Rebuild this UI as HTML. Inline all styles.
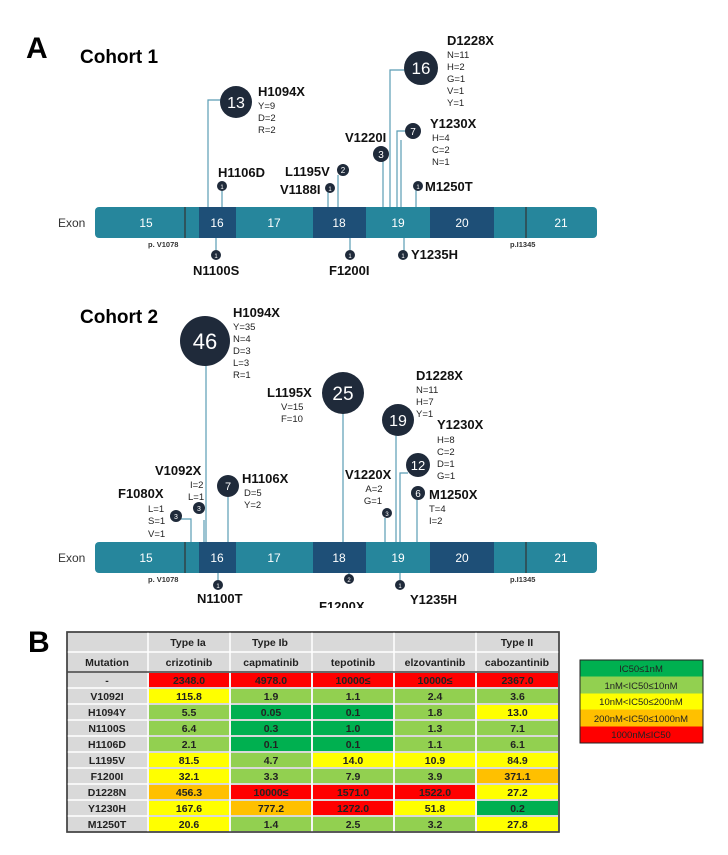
<!DOCTYPE html>
<html><head><meta charset="utf-8"><style>
body{margin:0;background:#fff;width:728px;height:855px;overflow:hidden}
svg{display:block;font-family:"Liberation Sans",sans-serif}
.b{font-weight:bold;font-size:13px;fill:#111}
.s{font-size:9.5px;fill:#222}
.c{fill:#1f2a3a}
.ct{fill:#fff;text-anchor:middle}
.ln{stroke:#5a9cb5;stroke-width:1.2;fill:none}
.ex{fill:#fff;font-size:12px;text-anchor:middle}
.tb{font-size:10.5px;font-weight:bold;text-anchor:middle;fill:#222}
</style></head><body>
<svg width="728" height="855" viewBox="0 0 728 855">
<text x="26" y="58" font-size="30" font-weight="bold">A</text>
<text x="80" y="63" font-size="19" font-weight="bold">Cohort 1</text>
<g>
<rect x="95" y="207" width="502" height="31" rx="4" fill="#26869c"/>
<rect x="199" y="207" width="37" height="31" fill="#1e4f77"/>
<rect x="313" y="207" width="53" height="31" fill="#1e4f77"/>
<rect x="430" y="207" width="64" height="31" fill="#1e4f77"/>
<line x1="185" y1="207" x2="185" y2="238" stroke="#333" stroke-width="1.2"/>
<line x1="526" y1="207" x2="526" y2="238" stroke="#333" stroke-width="1.2"/>
<text class="ex" x="146" y="227">15</text><text class="ex" x="217" y="227">16</text><text class="ex" x="274" y="227">17</text><text class="ex" x="339" y="227">18</text><text class="ex" x="398" y="227">19</text><text class="ex" x="462" y="227">20</text><text class="ex" x="561" y="227">21</text>
<text x="58" y="227" font-size="12" fill="#333">Exon</text>
<text x="148" y="247" font-size="7.5" font-weight="bold" fill="#333">p. V1078</text>
<text x="510" y="247" font-size="7.5" font-weight="bold" fill="#333">p.I1345</text>
</g>
<polyline class="ln" points="222,100 208,100 208,207"/>
<circle class="c" cx="236" cy="102" r="16"/><text class="ct" x="236" y="108" font-size="16">13</text>
<text class="b" x="258" y="96">H1094X</text><text class="s" x="258" y="109">Y=9</text><text class="s" x="258" y="121">D=2</text><text class="s" x="258" y="133">R=2</text>
<line class="ln" x1="222" y1="190" x2="222" y2="207"/><circle class="c" cx="222" cy="186" r="5"/><text class="ct" x="222" y="189" font-size="6">1</text>
<text class="b" x="218" y="177">H1106D</text>
<line class="ln" x1="328" y1="192" x2="328" y2="207"/><line class="ln" x1="338" y1="175" x2="338" y2="207"/>
<text class="b" x="285" y="176">L1195V</text><circle class="c" cx="343" cy="170" r="6"/><text class="ct" x="343" y="173" font-size="8">2</text>
<text class="b" x="280" y="194">V1188I</text><circle class="c" cx="330" cy="188" r="5"/><text class="ct" x="330" y="191" font-size="6">1</text>
<polyline class="ln" points="405,70 390,70 390,207"/>
<circle class="c" cx="421" cy="68" r="17"/><text class="ct" x="421" y="74" font-size="17">16</text>
<text class="b" x="447" y="45">D1228X</text><text class="s" x="447" y="58">N=11</text><text class="s" x="447" y="70">H=2</text><text class="s" x="447" y="82">G=1</text><text class="s" x="447" y="94">V=1</text><text class="s" x="447" y="106">Y=1</text>
<line class="ln" x1="383" y1="160" x2="383" y2="207"/><circle class="c" cx="381" cy="154" r="8"/><text class="ct" x="381" y="158" font-size="10">3</text>
<text class="b" x="345" y="142">V1220I</text>
<polyline class="ln" points="406,131 397,131 397,207"/><line class="ln" x1="401" y1="140" x2="401" y2="207"/>
<circle class="c" cx="413" cy="131" r="8"/><text class="ct" x="413" y="135" font-size="10">7</text>
<text class="b" x="430" y="128">Y1230X</text><text class="s" x="432" y="141">H=4</text><text class="s" x="432" y="153">C=2</text><text class="s" x="432" y="165">N=1</text>
<line class="ln" x1="416" y1="190" x2="416" y2="207"/><circle class="c" cx="418" cy="186" r="5"/><text class="ct" x="418" y="189" font-size="6">1</text>
<text class="b" x="425" y="191">M1250T</text>
<line class="ln" x1="216" y1="238" x2="216" y2="252"/><circle class="c" cx="216" cy="255" r="5"/><text class="ct" x="216" y="258" font-size="6">1</text>
<text class="b" x="193" y="275">N1100S</text>
<line class="ln" x1="350" y1="238" x2="350" y2="252"/><circle class="c" cx="350" cy="255" r="5"/><text class="ct" x="350" y="258" font-size="6">1</text>
<text class="b" x="329" y="275">F1200I</text>
<line class="ln" x1="404" y1="238" x2="404" y2="252"/><circle class="c" cx="403" cy="255" r="5"/><text class="ct" x="403" y="258" font-size="6">1</text>
<text class="b" x="411" y="259">Y1235H</text>

<text x="80" y="323" font-size="19" font-weight="bold">Cohort 2</text>
<g transform="translate(0,335)">
<rect x="95" y="207" width="502" height="31" rx="4" fill="#26869c"/>
<rect x="199" y="207" width="37" height="31" fill="#1e4f77"/>
<rect x="313" y="207" width="53" height="31" fill="#1e4f77"/>
<rect x="430" y="207" width="64" height="31" fill="#1e4f77"/>
<line x1="185" y1="207" x2="185" y2="238" stroke="#333" stroke-width="1.2"/>
<line x1="526" y1="207" x2="526" y2="238" stroke="#333" stroke-width="1.2"/>
<text class="ex" x="146" y="227">15</text><text class="ex" x="217" y="227">16</text><text class="ex" x="274" y="227">17</text><text class="ex" x="339" y="227">18</text><text class="ex" x="398" y="227">19</text><text class="ex" x="462" y="227">20</text><text class="ex" x="561" y="227">21</text>
<text x="58" y="227" font-size="12" fill="#333">Exon</text>
<text x="148" y="247" font-size="7.5" font-weight="bold" fill="#333">p. V1078</text>
<text x="510" y="247" font-size="7.5" font-weight="bold" fill="#333">p.I1345</text>
</g>
<line class="ln" x1="206" y1="360" x2="206" y2="542"/>
<circle class="c" cx="205" cy="341" r="25"/><text class="ct" x="205" y="349" font-size="22">46</text>
<text class="b" x="233" y="317">H1094X</text><text class="s" x="233" y="330">Y=35</text><text class="s" x="233" y="342">N=4</text><text class="s" x="233" y="354">D=3</text><text class="s" x="233" y="366">L=3</text><text class="s" x="233" y="378">R=1</text>
<line class="ln" x1="343" y1="410" x2="343" y2="542"/>
<circle class="c" cx="343" cy="393" r="21"/><text class="ct" x="343" y="400" font-size="19">25</text>
<text class="b" x="267" y="397">L1195X</text><text class="s" x="281" y="410">V=15</text><text class="s" x="281" y="422">F=10</text>
<line class="ln" x1="396" y1="435" x2="396" y2="542"/>
<circle class="c" cx="398" cy="420" r="16"/><text class="ct" x="398" y="426" font-size="16">19</text>
<text class="b" x="416" y="380">D1228X</text><text class="s" x="416" y="393">N=11</text><text class="s" x="416" y="405">H=7</text><text class="s" x="416" y="417">Y=1</text>
<polyline class="ln" points="408,473 400,473 400,542"/>
<circle class="c" cx="418" cy="465" r="12"/><text class="ct" x="418" y="470" font-size="13">12</text>
<text class="b" x="437" y="429">Y1230X</text><text class="s" x="437" y="443">H=8</text><text class="s" x="437" y="455">C=2</text><text class="s" x="437" y="467">D=1</text><text class="s" x="437" y="479">G=1</text>
<line class="ln" x1="417" y1="500" x2="417" y2="542"/>
<circle class="c" cx="418" cy="493" r="7"/><text class="ct" x="418" y="497" font-size="10">6</text>
<text class="b" x="429" y="499">M1250X</text><text class="s" x="429" y="512">T=4</text><text class="s" x="429" y="524">I=2</text>
<line class="ln" x1="385" y1="518" x2="385" y2="542"/>
<circle class="c" cx="387" cy="513" r="5"/><text class="ct" x="387" y="516" font-size="6">3</text>
<text class="b" x="345" y="479">V1220X</text><text class="s" x="374" y="492" text-anchor="middle">A=2</text><text class="s" x="373" y="504" text-anchor="middle">G=1</text>
<line class="ln" x1="204" y1="520" x2="204" y2="542"/>
<circle class="c" cx="199" cy="508" r="6"/><text class="ct" x="199" y="511" font-size="7">3</text>
<text class="b" x="155" y="475">V1092X</text><text class="s" x="190" y="488">I=2</text><text class="s" x="188" y="500">L=1</text>
<line class="ln" x1="228" y1="497" x2="228" y2="542"/>
<circle class="c" cx="228" cy="486" r="11"/><text class="ct" x="228" y="490" font-size="11">7</text>
<text class="b" x="242" y="483">H1106X</text><text class="s" x="244" y="496">D=5</text><text class="s" x="244" y="508">Y=2</text>
<polyline class="ln" points="181,519 191,519 191,542"/>
<circle class="c" cx="176" cy="516" r="6"/><text class="ct" x="176" y="519" font-size="7">3</text>
<text class="b" x="118" y="498">F1080X</text><text class="s" x="148" y="512">L=1</text><text class="s" x="148" y="524">S=1</text><text class="s" x="148" y="537">V=1</text>
<line class="ln" x1="218" y1="573" x2="218" y2="581"/><circle class="c" cx="218" cy="585" r="5"/><text class="ct" x="218" y="588" font-size="6">1</text>
<text class="b" x="197" y="603">N1100T</text>
<line class="ln" x1="349" y1="573" x2="349" y2="575"/><circle class="c" cx="349" cy="579" r="5"/><text class="ct" x="349" y="582" font-size="6">2</text>
<text class="b" x="319" y="611">F1200X</text>
<line class="ln" x1="400" y1="573" x2="400" y2="581"/><circle class="c" cx="400" cy="585" r="5"/><text class="ct" x="400" y="588" font-size="6">1</text>
<text class="b" x="410" y="604">Y1235H</text>
<rect x="0" y="608" width="728" height="12" fill="#fff"/>

<text x="28" y="652" font-size="30" font-weight="bold">B</text>
<g>
<rect x="67" y="632" width="492" height="200" fill="#d9d9d9" stroke="#444" stroke-width="1.5"/>
<g stroke="#fff" stroke-width="1.5">
<line x1="148" y1="632" x2="148" y2="832"/><line x1="230" y1="632" x2="230" y2="832"/><line x1="312" y1="632" x2="312" y2="832"/><line x1="394" y1="632" x2="394" y2="832"/><line x1="476" y1="632" x2="476" y2="832"/>
<line x1="67" y1="652" x2="559" y2="652"/>
</g>
<line x1="67" y1="672" x2="559" y2="672" stroke="#444" stroke-width="1.5"/>
<text class="tb" x="188" y="646">Type Ia</text><text class="tb" x="270" y="646">Type Ib</text><text class="tb" x="517" y="646">Type II</text>
<text class="tb" x="107" y="666">Mutation</text><text class="tb" x="189" y="666">crizotinib</text><text class="tb" x="271" y="666">capmatinib</text><text class="tb" x="353" y="666">tepotinib</text><text class="tb" x="435" y="666">elzovantinib</text><text class="tb" x="517" y="666">cabozantinib</text>
</g>
<g id="rows"></g>
<rect x="580.5" y="660.5" width="122" height="16" fill="#00b050"/>
<rect x="580.5" y="676.5" width="122" height="17" fill="#92d050"/>
<rect x="580.5" y="693.5" width="122" height="16" fill="#ffff00"/>
<rect x="580.5" y="709.5" width="122" height="17" fill="#ffc000"/>
<rect x="580.5" y="726.5" width="122" height="16" fill="#ff0000"/>
<rect x="580" y="660" width="123" height="83" fill="none" stroke="#222"/>
<g font-size="9.5" text-anchor="middle" fill="#222">
<text x="641" y="672">IC50≤1nM</text><text x="641" y="689">1nM&lt;IC50≤10nM</text><text x="641" y="705">10nM&lt;IC50≤200nM</text><text x="641" y="722">200nM&lt;IC50≤1000nM</text><text x="641" y="738">1000nM≤IC50</text>
</g>
</svg>
<script>
var R={r:"#ff0000",y:"#ffff00",g:"#92d050",d:"#00b050",o:"#ffc000"};
var rows=[["-","r2348.0","r4978.0","r10000≤","r10000≤","r2367.0"],
["V1092I","y115.8","g1.9","g1.1","g2.4","g3.6"],
["H1094Y","g5.5","d0.05","d0.1","g1.8","y13.0"],
["N1100S","g6.4","d0.3","d1.0","g1.3","g7.1"],
["H1106D","g2.1","d0.1","d0.1","g1.1","g6.1"],
["L1195V","y81.5","g4.7","y14.0","y10.9","y84.9"],
["F1200I","y32.1","g3.3","g7.9","g3.9","o371.1"],
["D1228N","o456.3","r10000≤","r1571.0","r1522.0","y27.2"],
["Y1230H","y167.6","o777.2","r1272.0","y51.8","d0.2"],
["M1250T","y20.6","g1.4","g2.5","g3.2","y27.8"]];
var ns="http://www.w3.org/2000/svg",g=document.getElementById("rows"),xs=[67,148,230,312,394,476,559];
function el(t,a,tx){var e=document.createElementNS(ns,t);for(var k in a)e.setAttribute(k,a[k]);if(tx)e.textContent=tx;g.appendChild(e);}
rows.forEach(function(r,i){var y=672+i*16;
el("text",{x:107,y:y+12,"class":"tb"},r[0]);
for(var j=1;j<6;j++){var c=r[j][0],v=r[j].slice(1);
el("rect",{x:xs[j]+1,y:y+1,width:xs[j+1]-xs[j]-2,height:14,fill:R[c]});
el("text",{x:(xs[j]+xs[j+1])/2,y:y+12,"class":"tb"},v);}
if(i>0)el("line",{x1:67,y1:y,x2:148,y2:y,stroke:"#fff","stroke-width":1.5});
});
el("rect",{x:67,y:632,width:492,height:200,fill:"none",stroke:"#444","stroke-width":1.5});
</script>
</body></html>
